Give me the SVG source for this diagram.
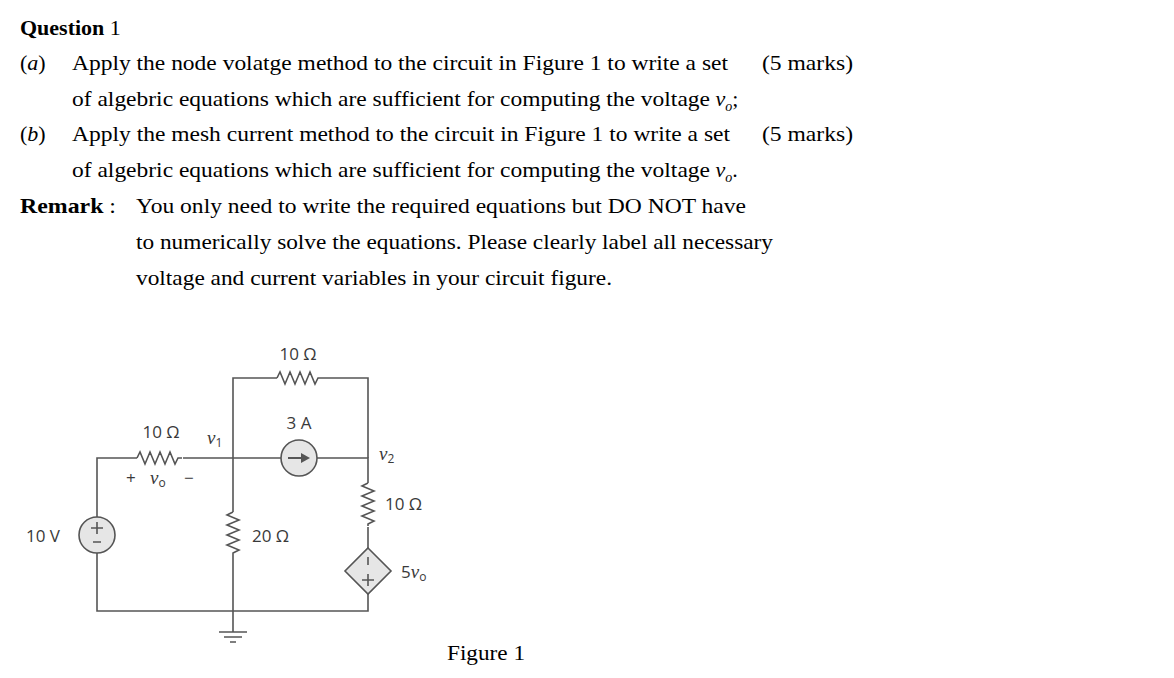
<svg xmlns="http://www.w3.org/2000/svg" width="1174" height="678" viewBox="0 0 1174 678">
<style>
.t{font-family:"Liberation Serif",serif;font-size:22px;fill:#000}
.c{font-family:"Open Sans","Liberation Sans",sans-serif;font-size:17px;fill:#3a3a3a}
.w{stroke:#555;stroke-width:1.6;fill:none}
.s{stroke:#555;stroke-width:1.6;fill:#e6e6e6}
</style>
<rect width="1174" height="678" fill="#fff"/>
<g id="text">
<text class="t" x="20" y="35" font-weight="bold">Question<tspan font-weight="normal"> 1</tspan></text>
<text class="t" x="20" y="70">(<tspan font-style="italic">a</tspan>)</text>
<text class="t" x="72" y="70" textLength="656" lengthAdjust="spacingAndGlyphs">Apply the node volatge method to the circuit in Figure 1 to write a set</text>
<text class="t" x="762" y="70" textLength="91" lengthAdjust="spacingAndGlyphs">(5 marks)</text>
<text class="t" x="72" y="106"><tspan textLength="638" lengthAdjust="spacingAndGlyphs">of algebric equations which are sufficient for computing the voltage</tspan> <tspan font-style="italic">v</tspan><tspan font-style="italic" font-size="14" dy="5">o</tspan><tspan dy="-5">;</tspan></text>
<text class="t" x="20" y="141">(<tspan font-style="italic">b</tspan>)</text>
<text class="t" x="72" y="141" textLength="658" lengthAdjust="spacingAndGlyphs">Apply the mesh current method to the circuit in Figure 1 to write a set</text>
<text class="t" x="762" y="141" textLength="91" lengthAdjust="spacingAndGlyphs">(5 marks)</text>
<text class="t" x="72" y="177"><tspan textLength="638" lengthAdjust="spacingAndGlyphs">of algebric equations which are sufficient for computing the voltage</tspan> <tspan font-style="italic">v</tspan><tspan font-style="italic" font-size="14" dy="5">o</tspan><tspan dy="-5">.</tspan></text>
<text class="t" x="20" y="213" textLength="96" lengthAdjust="spacingAndGlyphs"><tspan font-weight="bold">Remark</tspan> :</text>
<text class="t" x="136" y="213" textLength="610" lengthAdjust="spacingAndGlyphs">You only need to write the required equations but DO NOT have</text>
<text class="t" x="136" y="249" textLength="637" lengthAdjust="spacingAndGlyphs">to numerically solve the equations. Please clearly label all necessary</text>
<text class="t" x="136" y="285" textLength="476" lengthAdjust="spacingAndGlyphs">voltage and current variables in your circuit figure.</text>
<text class="t" x="447" y="660" textLength="78" lengthAdjust="spacingAndGlyphs">Figure 1</text>
</g>
<g id="wires">
<path class="w" d="M97 517V458H137M183 458H233H281M317 458H368V483M368 527V548M368 594V611H97V553"/>
<path class="w" d="M233 458V378H277M322 378H368V458M233 458V512M233 555V632"/>
<path class="w" d="M219 632H247M224 637H242M230 642H236"/>
</g>
<g id="R_top"><path class="w" d="M277 378l3 -6 5 12 5 -12 5 12 5 -12 5 12 5 -12 5 12 3 -6h4"/></g>
<g id="R_left"><path class="w" d="M137 458l3 -6 5 12 5 -12 5 12 5 -12 5 12 5 -12 5 12 3 -6h4"/></g>
<g id="R_20"><path class="w" d="M233 512l-6 3 12 5 -12 5 12 5 -12 5 12 5 -12 5 12 5 -6 3v2"/></g>
<g id="R_right"><path class="w" d="M368 483l-6 3 12 5 -12 5 12 5 -12 5 12 5 -12 5 12 5 -6 3v2"/></g>
<g id="V10"><circle class="s" cx="97" cy="535" r="18"/><path class="w" d="M91 528h12M97 522v12M93 542h8" stroke-width="1.3"/></g>
<g id="I3"><circle class="s" cx="299" cy="458" r="18"/><path d="M288 458h14" stroke="#555" stroke-width="2"/><path d="M310 458l-9 -5v10z" fill="#555"/></g>
<g id="dep"><path class="s" d="M368 548l23 23 -23 23 -23 -23z"/><path class="w" d="M368 557v8M362 580h12M368 574v12" stroke-width="1.3"/></g>
<g id="labels">
<text class="c" x="298" y="360" text-anchor="middle">10 Ω</text>
<text class="c" x="299" y="429" text-anchor="middle">3 A</text>
<text class="c" x="161" y="438" text-anchor="middle">10 Ω</text>
<text class="c" x="207" y="444"><tspan font-family="Liberation Serif,serif" font-style="italic" font-size="19">v</tspan><tspan font-size="12" dy="3">1</tspan></text>
<text class="c" x="379" y="460"><tspan font-family="Liberation Serif,serif" font-style="italic" font-size="19">v</tspan><tspan font-size="12" dy="3">2</tspan></text>
<text class="c" x="126" y="484">+</text>
<text class="c" x="150" y="484"><tspan font-family="Liberation Serif,serif" font-style="italic" font-size="19">v</tspan><tspan font-size="12" dy="3">o</tspan></text>
<text class="c" x="184" y="484">−</text>
<text class="c" x="385" y="510">10 Ω</text>
<text class="c" x="252" y="542">20 Ω</text>
<text class="c" x="26" y="542">10 V</text>
<text class="c" x="401" y="578">5<tspan font-family="Liberation Serif,serif" font-style="italic" font-size="19">v</tspan><tspan font-size="12" dy="3">o</tspan></text>
</g>
</svg>
